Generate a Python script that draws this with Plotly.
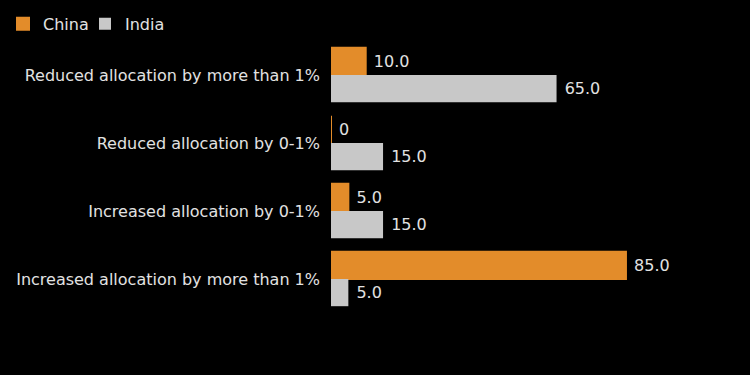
import plotly.graph_objects as go

categories = [
    "Reduced allocation by more than 1%",
    "Reduced allocation by 0-1%",
    "Increased allocation by 0-1%",
    "Increased allocation by more than 1%",
]
china = [10.0, 0.0, 5.0, 85.0]
india = [65.0, 15.0, 15.0, 5.0]

ORANGE = "#e38c2a"
GREY = "#c8c8c8"
TEXT = "#e2e2e2"
FONT = "DejaVu Sans"


def labels(vals):
    return ["\u00a0" + ("0" if v == 0 else f"{v:.1f}") for v in vals]


fig = go.Figure()
fig.add_trace(go.Bar(
    y=categories, x=china, name="China", orientation="h",
    marker=dict(color=ORANGE, line=dict(color=ORANGE, width=2)),
    text=labels(china), textposition="outside", cliponaxis=False,
    textfont=dict(color=TEXT, size=16, family=FONT),
))
fig.add_trace(go.Bar(
    y=categories, x=india, name="India", orientation="h",
    marker=dict(color=GREY, line=dict(width=0)),
    text=labels(india), textposition="outside", cliponaxis=False,
    textfont=dict(color=TEXT, size=16, family=FONT),
))

fig.update_layout(
    width=750, height=375,
    barmode="group", bargap=0.2, bargroupgap=0,
    paper_bgcolor="#000000", plot_bgcolor="#000000",
    margin=dict(l=331, r=72, t=41, b=62, autoexpand=False),
    font=dict(family=FONT, size=16, color=TEXT),
    showlegend=True,
    legend=dict(
        orientation="h", xref="container", yref="container",
        x=0.004, y=0.982, xanchor="left", yanchor="top",
        font=dict(size=16, color=TEXT, family=FONT),
        bgcolor="rgba(0,0,0,0)", itemwidth=30, traceorder="normal",
        entrywidth=37, entrywidthmode="pixels",
    ),
    xaxis=dict(range=[0, 100], visible=False, showgrid=False, zeroline=False),
    yaxis=dict(
        autorange="reversed", showgrid=False, zeroline=False, showline=False,
        ticks="", ticklabelstandoff=10, automargin=False,
        tickfont=dict(size=16, color=TEXT, family=FONT),
    ),
)

fig.write_html(
    "out.html",
    config={"displayModeBar": False},
    post_script="document.body.style.margin='0';document.body.style.background='#000';",
)
